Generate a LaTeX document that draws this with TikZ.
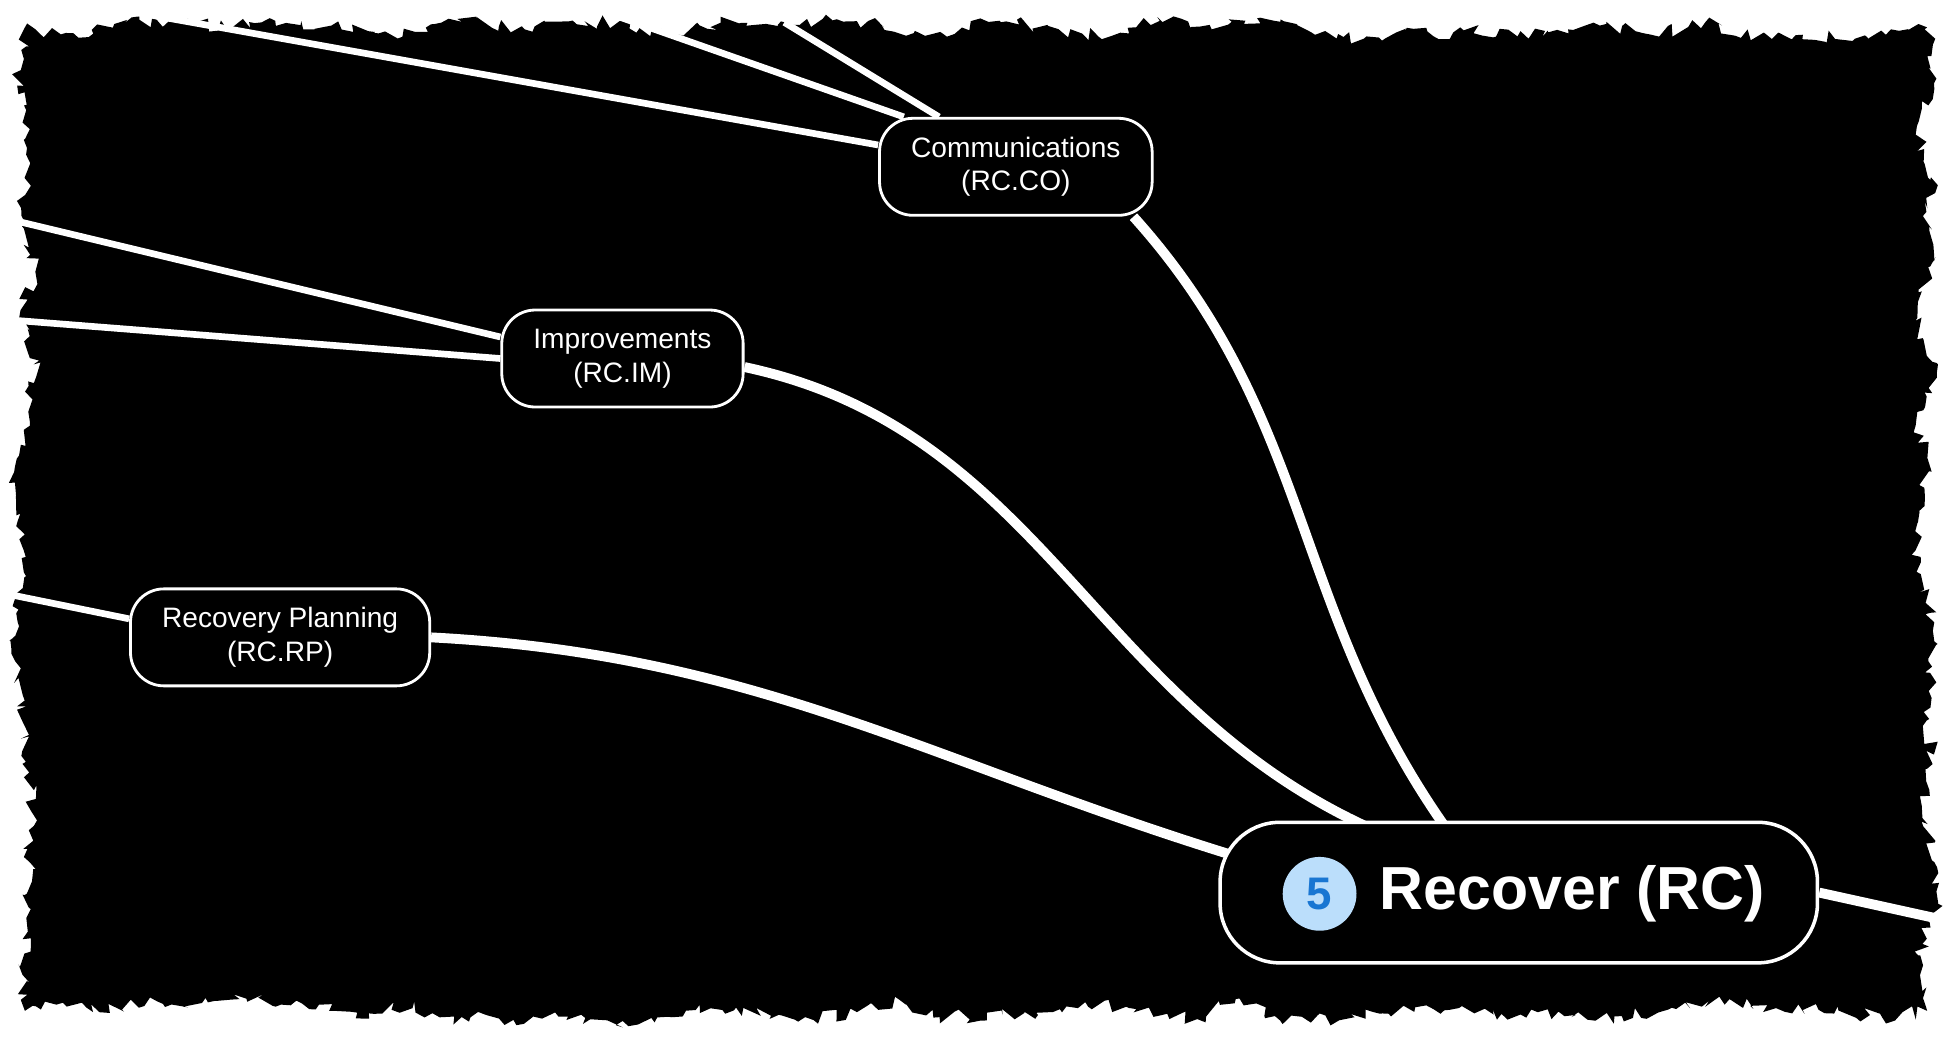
\documentclass[tikz,border=0pt]{standalone}
\usepackage{fontspec}
\setmainfont{Liberation Sans}
\usetikzlibrary{decorations.pathmorphing}
\pgfdeclarelayer{paper}
\pgfdeclarelayer{links}
\pgfsetlayers{paper,links,main}
\definecolor{badgefill}{HTML}{BBDEFB}
\definecolor{badgetext}{HTML}{1976D2}

\begin{document}
\begin{tikzpicture}[x=0.01245cm,y=0.01245cm,
		topic/.style={draw=white,line width=0.8pt,fill=black,text=white,rounded corners=9.5pt,align=center,inner xsep=9pt,minimum height=27.6pt,font=\fontsize{8}{9.6}\selectfont},
		root/.style={draw=white,line width=1pt,fill=black,rounded corners=17pt,minimum width=170pt,minimum height=40pt},
		badge/.style={circle,fill=badgefill,text=badgetext,minimum size=21pt,inner sep=0pt,font=\fontsize{13}{13}\selectfont\bfseries},
		twig/.style={white,line width=1.9pt},
		branch/.style={white,line width=2.8pt}]
		\useasboundingbox (0,0) rectangle (1568,834);
		% torn sheet: coarse wobble, then fine teeth
		\begin{pgfonlayer}{paper}
		\pgfmathsetseed{11}
		\fill[black] decorate[decoration={random steps,segment length=1.8pt,amplitude=2pt}]
			{decorate[decoration={random steps,segment length=14pt,amplitude=3.5pt}]
			{(20,22) rectangle (1548,812)}};
		\end{pgfonlayer}
		
		\draw (816,700) node[topic] (CO) {Communications\\(RC.CO)};
		\draw (500,546) node[topic] (IM) {Improvements\\(RC.IM)};
		\draw (225,322) node[topic] (RP) {Recovery Planning\\(RC.RP)};
		\draw (1220,117) node[root] (RC) {};
		\draw (1060,116) node[badge] (num) {5};
		\draw (1263,116) node[text=white,font=\fontsize{17.3}{20}\selectfont\bfseries] (RCtext) {Recover (RC)};
		
		% loose ends at the torn edge
		\coordinate (e1) at (98,826);
		\coordinate (e2) at (470,830);
		\coordinate (e3) at (630,816);
		\coordinate (e4) at (-10,662);
		\coordinate (e5) at (-5,578);
		\coordinate (e6) at (-5,359);
		\coordinate (e7) at (1575,92);
		
		\begin{pgfonlayer}{links}
		\draw[twig] (e1) -- (CO.171);
		\draw[twig] (e2) -- (CO.156);
		\draw[twig] (e3) -- (CO.147);
		\draw[twig] (e4) -- (IM.170);
		\draw[twig] (e5) -- (IM.west);
		\draw[twig] (e6) -- (RP.173);
		\draw[branch] (CO.-23) to[out=-48,in=125] ([shift={(-4,-4)}]RC.134);
		\draw[branch] (IM.-4) to[out=-12,in=155] ([shift={(0,-4)}]RC.155.5);
		\draw[branch] (RP.east) to[out=-3,in=163] ([shift={(18,28)}]RC.west);
		\draw[branch] (RC.east) -- (e7);
		\end{pgfonlayer}
\end{tikzpicture}
\end{document}
